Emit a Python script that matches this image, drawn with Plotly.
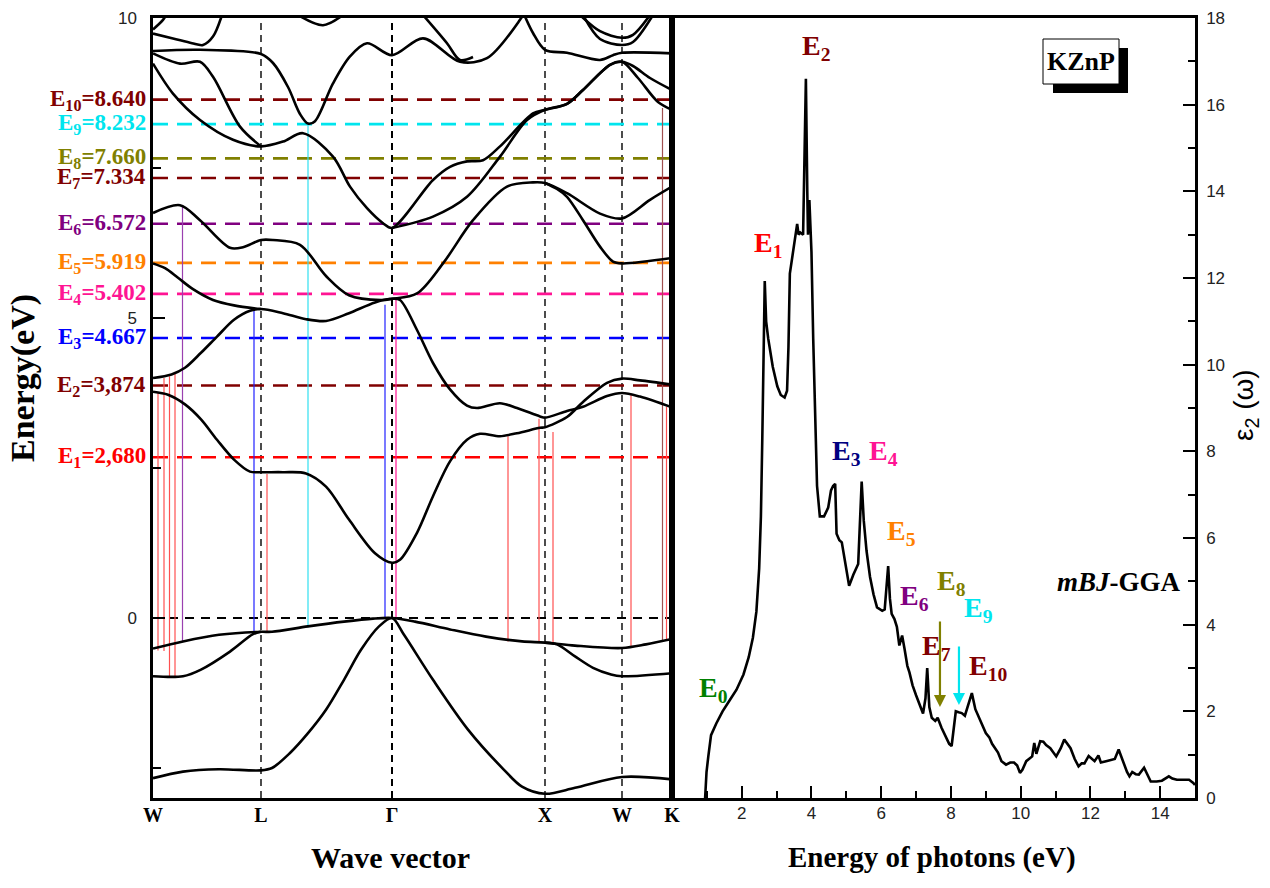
import plotly.graph_objects as go

# ---------------- data: band structure (k in path units, E in eV) ----------------
kpath_pos = [0, 1.08, 2.39, 3.92, 4.69, 5.19]
kpath_labels = ["W", "L", "Γ", "X", "W", "K"]

vb1_k = [0, 0.30, 0.66, 1.08, 1.19, 1.55, 1.91, 2.20, 2.39, 2.62, 2.97, 3.33, 3.69, 3.92, 4.22, 4.69, 4.93, 5.19]
vb1_e = [-0.51, -0.39, -0.28, -0.23, -0.23, -0.14, -0.06, -0.01, 0, -0.06, -0.19, -0.31, -0.39, -0.41, -0.46, -0.5, -0.44, -0.35]
vb2a_k = [0, 0.30, 0.48, 0.77, 1.0, 1.08]
vb2a_e = [-0.97, -0.97, -0.86, -0.56, -0.27, -0.23]
vb2b_k = [3.92, 4.04, 4.22, 4.40, 4.58, 4.69, 5.19]
vb2b_e = [-0.41, -0.44, -0.64, -0.83, -0.94, -0.97, -0.92]
vb3_k = [0, 0.30, 0.66, 1.08, 1.19, 1.37, 1.55, 1.73, 1.91, 2.08, 2.26, 2.39, 2.51, 2.80, 3.15, 3.51, 3.69, 3.92, 4.22, 4.69, 5.19]
vb3_e = [-2.67, -2.56, -2.52, -2.54, -2.5, -2.25, -1.92, -1.53, -1.03, -0.53, -0.14, 0, -0.28, -1.03, -1.86, -2.53, -2.81, -2.93, -2.83, -2.65, -2.69]

cb1_k = [0, 0.15, 0.32, 0.48, 0.64, 0.81, 0.97, 1.08, 1.30, 1.53, 1.73, 1.96, 2.22, 2.39, 2.47, 2.64, 2.80, 2.97, 3.14, 3.27, 3.47, 3.64, 3.87, 3.92, 4.14, 4.30, 4.54, 4.69, 4.87, 5.19]
cb1_e = [3.77, 3.72, 3.56, 3.31, 2.97, 2.64, 2.44, 2.43, 2.43, 2.41, 2.19, 1.64, 1.08, 0.92, 0.97, 1.42, 2.03, 2.61, 2.97, 3.07, 3.03, 3.08, 3.17, 3.18, 3.35, 3.60, 3.92, 3.99, 3.96, 3.89]
cb2_k = [0, 0.185, 0.32, 0.48, 0.64, 0.81, 0.97, 1.08, 1.30, 1.53, 1.73, 1.96, 2.22, 2.39, 2.47, 2.64, 2.80, 2.97, 3.14, 3.24, 3.47, 3.64, 3.87, 3.92, 4.14, 4.30, 4.54, 4.69, 4.87, 5.19]
cb2_e = [4.0, 4.06, 4.17, 4.42, 4.69, 4.97, 5.12, 5.15, 5.08, 4.98, 4.95, 5.08, 5.26, 5.32, 5.3, 4.8, 4.25, 3.81, 3.54, 3.5, 3.58, 3.5, 3.36, 3.34, 3.45, 3.52, 3.70, 3.75, 3.69, 3.51]
cb3_k = [0, 0.12, 0.25, 0.40, 0.60, 0.81, 1.08]
cb3_e = [5.91, 5.83, 5.67, 5.48, 5.30, 5.21, 5.15]
cb4_k = [0, 0.27, 0.47, 0.77, 0.90, 1.08, 1.20, 1.47, 1.73, 1.96, 2.28, 2.39, 2.64, 2.90, 3.20, 3.54, 3.80, 3.92, 4.14, 4.47, 4.69, 4.97, 5.19]
cb4_e = [6.75, 6.88, 6.63, 6.17, 6.18, 6.3, 6.3, 6.22, 5.7, 5.38, 5.3, 5.32, 5.41, 5.91, 6.63, 7.19, 7.26, 7.25, 7.08, 6.74, 6.66, 6.97, 7.19]
cb4b_k = [3.92, 4.04, 4.14, 4.30, 4.47, 4.60, 4.69, 5.19]
cb4b_e = [7.25, 7.15, 7.02, 6.63, 6.19, 5.94, 5.91, 6.0]
cb5_k = [0, 0.20, 0.47, 0.80, 1.08, 1.30, 1.50, 1.80, 1.97, 2.14, 2.30, 2.39, 2.80, 2.97, 3.14, 3.30, 3.47, 3.80, 3.92, 4.14, 4.30, 4.57, 4.69, 4.80, 4.97, 5.19]
cb5_e = [9.24, 8.74, 8.3, 7.97, 7.86, 7.94, 8.08, 7.69, 7.19, 6.83, 6.58, 6.5, 7.3, 7.52, 7.61, 7.63, 7.86, 8.41, 8.47, 8.57, 8.8, 9.22, 9.27, 9.2, 9.0, 8.8]
cb6_k = [0, 0.27, 0.47, 0.60, 0.87, 1.08]
cb6_e = [9.41, 9.24, 9.27, 9.02, 8.19, 7.86]
cb7_k = [2.39, 2.80, 3.14, 3.47, 3.74, 3.92, 4.14, 4.30, 4.57, 4.69, 4.85, 5.05, 5.19]
cb7_e = [6.5, 6.69, 7.02, 7.69, 8.3, 8.47, 8.57, 8.8, 9.22, 9.27, 9.0, 8.6, 8.47]
cb8_k = [0, 0.47, 1.08, 1.20, 1.35, 1.47, 1.55, 1.62, 1.80, 1.97, 2.14, 2.39, 2.70, 3.07, 3.34, 3.67, 3.75]
cb8_e = [9.45, 9.47, 9.40, 9.25, 8.85, 8.4, 8.24, 8.28, 8.91, 9.36, 9.58, 9.38, 9.66, 9.27, 9.33, 9.97, 10.2]
cb9_k = [3.70, 3.80, 3.92, 4.14, 4.47, 4.60, 4.69, 5.19]
cb9_e = [10.1, 9.75, 9.47, 9.42, 9.3, 9.38, 9.42, 9.41]
cb10_k = [0, 0.20, 0.39, 0.50, 0.60, 0.69]
cb10_e = [9.74, 9.66, 9.58, 9.55, 9.69, 10.05]
cb11_k = [0, 0.10, 0.15]
cb11_e = [9.81, 9.97, 10.1]
cb12_k = [1.45, 1.70, 1.90]
cb12_e = [10.05, 9.88, 10.05]
cb13_k = [2.70, 2.94, 3.07, 3.20]
cb13_e = [10.05, 9.58, 9.3, 9.35]
cb14_k = [4.27, 4.47, 4.69, 4.80, 4.97]
cb14_e = [10.05, 9.78, 9.67, 9.72, 10.05]
cb15_k = [4.30, 4.47, 4.69, 4.80, 5.0]
cb15_e = [10.05, 9.65, 9.55, 9.6, 10.05]

bands_k = [vb1_k, vb2a_k, vb2b_k, vb3_k, cb1_k, cb2_k, cb3_k, cb4_k, cb4b_k, cb5_k, cb6_k,
           cb7_k, cb8_k, cb9_k, cb10_k, cb11_k, cb12_k, cb13_k, cb14_k, cb15_k]
bands_e = [vb1_e, vb2a_e, vb2b_e, vb3_e, cb1_e, cb2_e, cb3_e, cb4_e, cb4b_e, cb5_e, cb6_e,
           cb7_e, cb8_e, cb9_e, cb10_e, cb11_e, cb12_e, cb13_e, cb14_e, cb15_e]

# transition energies (horizontal dashed lines)
trans_names = ["10", "9", "8", "7", "6", "5", "4", "3", "2", "1"]
trans_values = [8.640, 8.232, 7.660, 7.334, 6.572, 5.919, 5.402, 4.667, 3.874, 2.680]
trans_text = ["8.640", "8.232", "7.660", "7.334", "6.572", "5.919", "5.402", "4.667", "3,874", "2,680"]
trans_colors = ["#800000", "#00E5EE", "#808000", "#800000", "#800080", "#FF8000", "#FF1493", "#0000FF", "#800000", "#FF0000"]

# vertical transition arrows in k-space
vt_k = [0.05, 0.11, 0.165, 0.22, 0.295, 1.01, 1.14, 1.55, 2.32, 2.43, 3.55, 3.86, 4.00, 4.78, 5.095, 5.135]
vt_lo = [-0.54, -0.55, -0.97, -1.0, -0.39, -0.25, -0.23, -0.12, -0.01, -0.01, -0.39, -0.41, -0.42, -0.5, -0.37, -0.37]
vt_hi = [3.75, 4.0, 4.03, 4.08, 6.85, 5.15, 2.4, 8.23, 5.22, 5.3, 3.03, 3.32, 3.1, 3.74, 8.5, 3.52]
vt_col = ["#FF5050", "#FF5050", "#FF5050", "#FF5050", "#9A40B0", "#2020FF", "#FF5050", "#30E0F0",
          "#2020FF", "#FF1493", "#FF5050", "#FF5050", "#FF5050", "#FF5050", "#A05050", "#FF5050"]

# ---------------- data: imaginary dielectric function ----------------
photon_e = [0.95, 0.99, 1.04, 1.12, 1.27, 1.45, 1.65, 1.85, 2.05, 2.2, 2.32, 2.42, 2.5, 2.55, 2.59, 2.62, 2.66,
            2.70, 2.76, 2.89, 3.02, 3.12, 3.23, 3.30, 3.34, 3.38, 3.48, 3.55, 3.59, 3.63, 3.68, 3.76, 3.80, 3.84,
            3.88, 3.90, 3.94, 3.97, 4.0, 4.05, 4.1, 4.16, 4.24, 4.36, 4.48, 4.56, 4.62, 4.68, 4.72, 4.8, 4.87,
            4.94, 5.0, 5.08, 5.13, 5.2, 5.34, 5.39, 5.44, 5.5, 5.58, 5.68, 5.78, 5.88, 6.03, 6.1, 6.15, 6.2,
            6.25, 6.3, 6.38, 6.45, 6.52, 6.6, 6.67, 6.75, 6.81, 6.9, 7.0, 7.1, 7.2, 7.27, 7.32, 7.38, 7.45,
            7.55, 7.62, 7.73, 7.85, 7.95, 8.02, 8.08, 8.14, 8.22, 8.31, 8.4, 8.47, 8.6, 8.7, 8.83, 9.0, 9.1,
            9.18, 9.35, 9.45, 9.58, 9.7, 9.81, 9.9, 9.98, 10.05, 10.16, 10.25, 10.33, 10.39, 10.45, 10.56,
            10.65, 10.73, 10.85, 11.02, 11.15, 11.25, 11.35, 11.43, 11.55, 11.66, 11.75, 11.83, 11.95, 12.05,
            12.12, 12.23, 12.3, 12.45, 12.58, 12.7, 12.81, 12.93, 13.05, 13.12, 13.2, 13.3, 13.39, 13.54,
            13.65, 13.73, 13.9, 14.05, 14.25, 14.35, 14.48, 14.7, 14.83, 14.95, 15.0]
eps2 = [0.0, 0.6, 0.95, 1.45, 1.72, 2.0, 2.25, 2.5, 2.85, 3.25, 3.7, 4.3, 5.3, 6.5, 8.3, 10.3, 11.93,
        11.0, 10.6, 9.95, 9.5, 9.3, 9.24, 9.4, 10.4, 12.1, 12.67, 13.1, 13.25, 13.0, 13.05, 13.0, 14.5, 16.6,
        14.0, 13.0, 13.8, 13.2, 12.6, 10.6, 8.7, 7.2, 6.5, 6.5, 6.7, 7.1, 7.2, 7.25, 6.1, 5.95, 5.9,
        5.55, 5.2, 4.9, 5.0, 5.15, 5.4, 6.3, 7.3, 6.4, 5.7, 5.1, 4.7, 4.4, 4.32, 4.35, 4.9, 5.35,
        4.6, 4.25, 4.13, 3.95, 3.52, 3.75, 3.44, 3.05, 2.9, 2.6, 2.37, 2.15, 1.95, 2.3, 3.0, 2.1, 1.85,
        1.78, 1.85, 1.62, 1.4, 1.25, 1.2, 1.6, 2.0, 1.98, 1.96, 1.9, 2.1, 2.42, 2.05, 1.8, 1.5, 1.4,
        1.25, 1.05, 0.85, 0.77, 0.82, 0.82, 0.75, 0.58, 0.65, 0.85, 0.9, 0.96, 1.27, 1.02, 1.31,
        1.3, 1.22, 1.15, 0.96, 1.15, 1.35, 1.25, 1.15, 0.9, 0.73, 0.8, 0.8, 0.97, 0.9,
        0.85, 0.98, 0.82, 0.85, 0.88, 0.9, 1.12, 0.85, 0.6, 0.5, 0.6, 0.55, 0.54, 0.7,
        0.5, 0.38, 0.38, 0.4, 0.5, 0.45, 0.42, 0.42, 0.42, 0.35, 0.3]

peak_names = ["0", "1", "2", "3", "4", "5", "6", "7", "8", "9", "10"]
peak_colors = ["#008000", "#FF0000", "#800000", "#000080", "#FF1493", "#FF8000", "#800080",
               "#800000", "#808000", "#00E5EE", "#800000"]

# ---------------- figure ----------------
W, H = 1270, 888
def px(x):
    return x / W
def py(y):
    return 1 - y / H

SERIF = "Liberation Serif"
SANS = "Liberation Sans"

fig = go.Figure()

# vertical dashed lines at high-symmetry points
for k in kpath_pos[1:5]:
    fig.add_trace(go.Scatter(x=[k, k], y=[-3, 10], mode="lines",
                             line=dict(color="black", width=2 if k == 2.39 else 1.4, dash="7px,5px"),
                             xaxis="x", yaxis="y", hoverinfo="skip", showlegend=False))
# Fermi level
fig.add_trace(go.Scatter(x=[0, 5.19], y=[0, 0], mode="lines",
                         line=dict(color="black", width=2, dash="9px,7px"),
                         xaxis="x", yaxis="y", hoverinfo="skip", showlegend=False))
# transition levels
for v, c in zip(trans_values, trans_colors):
    fig.add_trace(go.Scatter(x=[0, 5.19], y=[v, v], mode="lines",
                             line=dict(color=c, width=2.6, dash="15px,9px"),
                             xaxis="x", yaxis="y", hoverinfo="skip", showlegend=False))
# vertical transitions
for k, lo, hi, c in zip(vt_k, vt_lo, vt_hi, vt_col):
    fig.add_trace(go.Scatter(x=[k, k], y=[lo, hi], mode="lines",
                             line=dict(color=c, width=1.2),
                             xaxis="x", yaxis="y", hoverinfo="skip", showlegend=False))
# bands
for bk, be in zip(bands_k, bands_e):
    fig.add_trace(go.Scatter(x=bk, y=be, mode="lines", line=dict(color="black", width=2.6, shape="spline", smoothing=0.9),
                             xaxis="x", yaxis="y", hoverinfo="skip", showlegend=False))

# eps2 spectrum
fig.add_trace(go.Scatter(x=photon_e, y=eps2, mode="lines", line=dict(color="black", width=2.6),
                         xaxis="x2", yaxis="y2", hoverinfo="skip", showlegend=False))

ann = []
# left labels E_n = value
for n, txt, v, c in zip(trans_names, trans_text, trans_values, trans_colors):
    ann.append(dict(x=px(148), xref="paper", y=v, yref="y", xanchor="right", yanchor="middle",
                    text=f"<b>E<sub>{n}</sub>={txt}</b>", showarrow=False,
                    font=dict(family=SERIF, size=23, color=c)))

# peak labels on spectrum (positions in pixel space of the picture)
peak_px = [(697, 690), (752, 245), (800, 48), (830, 453), (867, 453), (885, 533), (898, 598),
           (920, 648), (935, 583), (962, 610), (967, 668)]
for n, c, (x0, y0) in zip(peak_names, peak_colors, peak_px):
    ann.append(dict(x=(x0 - 672) / 34.87, xref="x2", y=(798 - y0) / 43.33, yref="y2",
                    xanchor="left", yanchor="middle", text=f"<b>E<sub>{n}</sub></b>", showarrow=False,
                    font=dict(family=SERIF, size=28, color=c)))

# arrows for E8 and E9
for xa, ytop, ybot, c in [(940, 620, 707, "#808000"), (959, 645, 705, "#00E5EE")]:
    xd = (xa - 672) / 34.87
    ann.append(dict(x=xd, y=(798 - ybot) / 43.33, xref="x2", yref="y2",
                    ax=xd, ay=(798 - ytop) / 43.33, axref="x2", ayref="y2",
                    showarrow=True, arrowhead=2, arrowsize=1.1, arrowwidth=2.2, arrowcolor=c, text=""))

# KZnP box
shapes = [
    dict(type="rect", xref="paper", yref="paper", x0=px(1053), x1=px(1128), y0=py(93), y1=py(48),
         fillcolor="black", line=dict(width=0)),
    dict(type="rect", xref="paper", yref="paper", x0=px(1043), x1=px(1119), y0=py(84), y1=py(39),
         fillcolor="white", line=dict(color="black", width=1)),
]
ann.append(dict(x=px(1081), y=py(62), xref="paper", yref="paper", xanchor="center", yanchor="middle",
                text="<b>KZnP</b>", showarrow=False, font=dict(family=SERIF, size=26, color="black")))
ann.append(dict(x=px(1183), y=py(582), xref="paper", yref="paper", xanchor="right", yanchor="middle",
                text="<b><i>mBJ</i>-GGA</b>", showarrow=False, font=dict(family=SERIF, size=27, color="black")))

# axis titles
ann.append(dict(x=px(390), y=py(857), xref="paper", yref="paper", xanchor="center", yanchor="middle",
                text="<b>Wave vector</b>", showarrow=False, font=dict(family=SERIF, size=30, color="black")))
ann.append(dict(x=px(932), y=py(857), xref="paper", yref="paper", xanchor="center", yanchor="middle",
                text="<b>Energy of photons (eV)</b>", showarrow=False, font=dict(family=SERIF, size=29, color="black")))
ann.append(dict(x=px(23), y=py(378), xref="paper", yref="paper", xanchor="center", yanchor="middle",
                text="<b>Energy(eV)</b>", showarrow=False, textangle=-90,
                font=dict(family=SERIF, size=34, color="black")))
ann.append(dict(x=px(1245), y=py(405), xref="paper", yref="paper", xanchor="center", yanchor="middle",
                text="ε<sub>2</sub> (ω)", showarrow=False, textangle=-90,
                font=dict(family=SANS, size=28, color="black")))

dom_l = [px(153), px(672)]
dom_r = [px(672), px(1195)]
dom_y = [py(798), py(18)]

fig.update_layout(
    width=W, height=H, margin=dict(l=0, r=0, t=0, b=0, pad=0, autoexpand=False),
    plot_bgcolor="white", paper_bgcolor="white", showlegend=False,
    shapes=shapes, annotations=ann,
    xaxis=dict(domain=dom_l, range=[0, 5.19], anchor="y", showgrid=False, zeroline=False,
               tickvals=kpath_pos, ticktext=[f"<b>{t}</b>" for t in kpath_labels], ticks="",
               ticklabelstandoff=-3,
               tickfont=dict(family=SERIF, size=20, color="black"), automargin=False,
               showline=True, linecolor="black", linewidth=2.5, mirror=True),
    yaxis=dict(domain=dom_y, range=[-3, 10], anchor="x", showgrid=False, zeroline=False,
               tickvals=[0, 5, 10], ticks="inside", ticklen=12, tickwidth=1.5, tickcolor="black",
               ticklabelstandoff=10, automargin=False,
               minor=dict(ticks="inside", dtick=2.5, tick0=0, ticklen=8, tickwidth=1.5, tickcolor="black"),
               tickfont=dict(family=SANS, size=17, color="#222"),
               showline=True, linecolor="black", linewidth=2.5, mirror=True),
    xaxis2=dict(domain=dom_r, range=[0, 15], anchor="y2", showgrid=False, zeroline=False,
                tickvals=[2, 4, 6, 8, 10, 12, 14], ticks="inside", ticklen=12, tickwidth=1.5, tickcolor="black",
                ticklabelstandoff=-2, automargin=False,
                minor=dict(ticks="inside", dtick=1, tick0=0, ticklen=7, tickwidth=1.5, tickcolor="black"),
                tickfont=dict(family=SANS, size=17, color="#222"),
                showline=True, linecolor="black", linewidth=2.5, mirror=True),
    yaxis2=dict(domain=dom_y, range=[0, 18], anchor="x2", side="right", showgrid=False, zeroline=False,
                dtick=2, tick0=0, ticks="inside", ticklen=12, tickwidth=1.5, tickcolor="black",
                ticklabelstandoff=5, automargin=False,
                minor=dict(ticks="inside", dtick=1, tick0=0, ticklen=7, tickwidth=1.5, tickcolor="black"),
                tickfont=dict(family=SANS, size=17, color="#222"),
                showline=True, linecolor="black", linewidth=2.5, mirror=True),
)

fig.write_html("out.html")
